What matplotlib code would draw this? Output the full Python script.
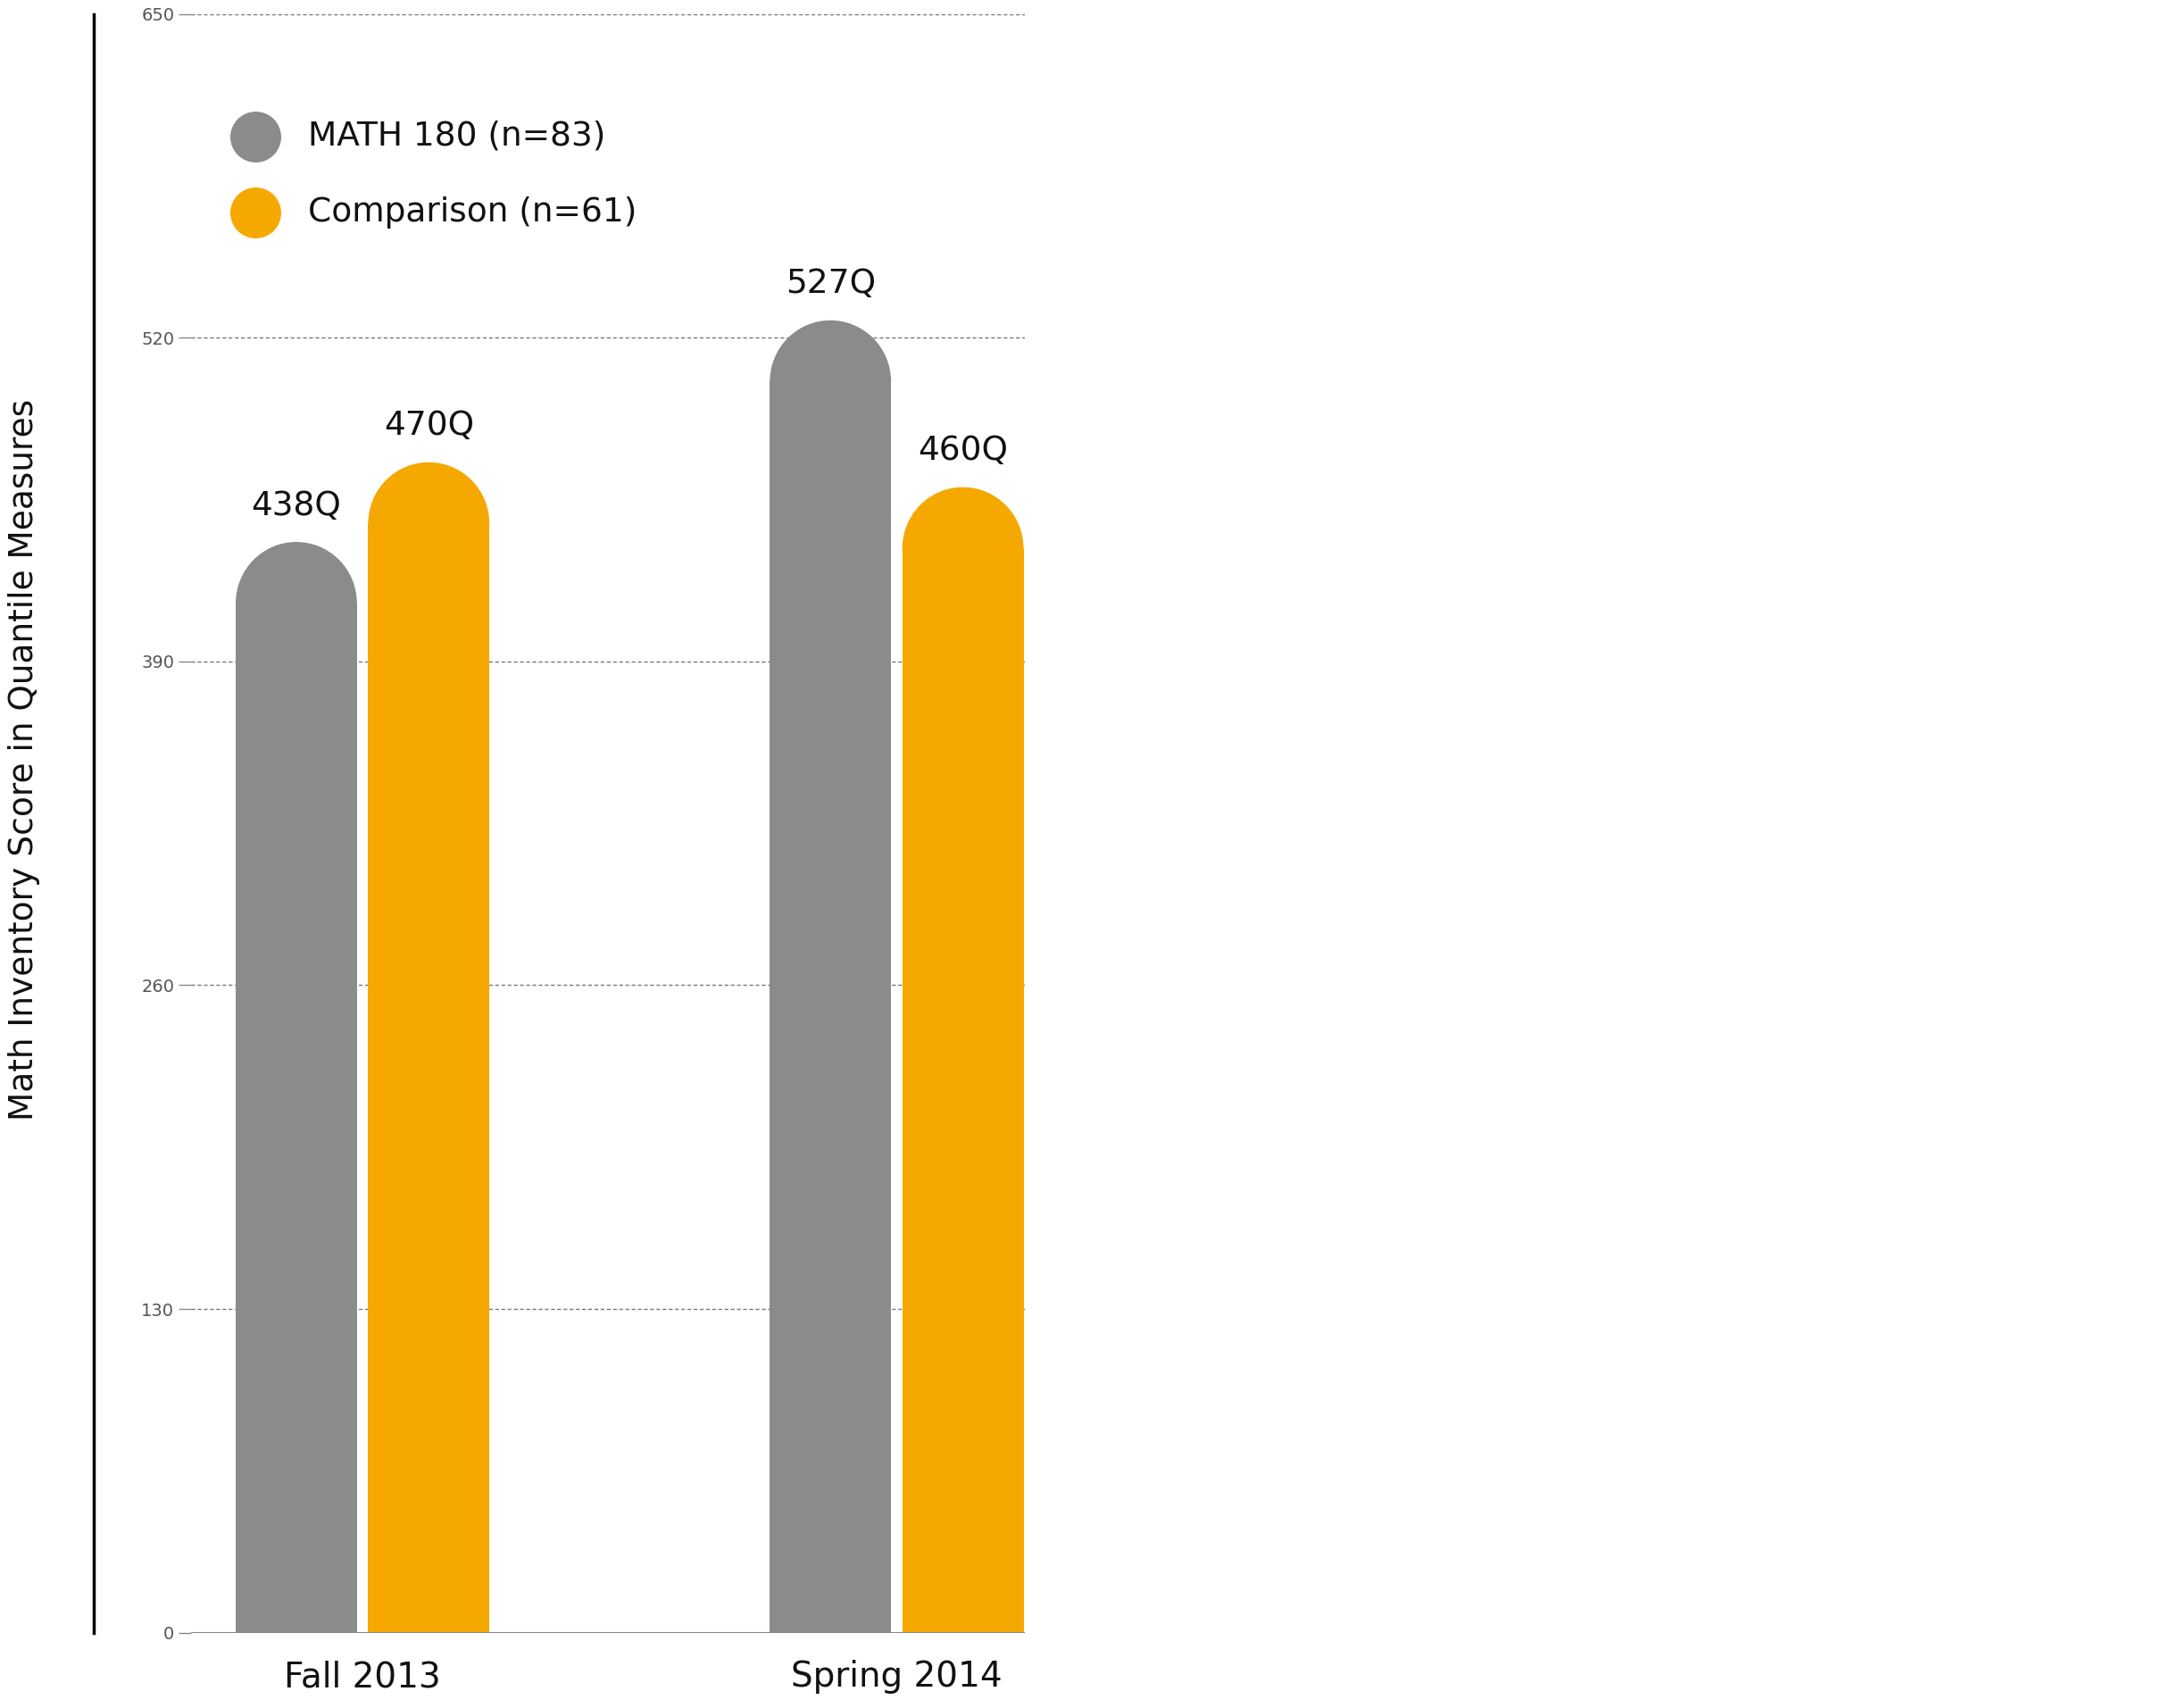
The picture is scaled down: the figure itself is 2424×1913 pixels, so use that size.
import matplotlib.pyplot as plt
from matplotlib.patches import Rectangle, Ellipse

categories = ["Fall 2013", "Spring 2014"]
series_names = ["MATH 180 (n=83)", "Comparison (n=61)"]
math180 = [438, 527]
comparison = [470, 460]
yticks = [0, 130, 260, 390, 520, 650]

colors = ["#8a8c8c", "#f5a800"]
plt.rcParams['font.family'] = ['Liberation Sans Narrow', 'DejaVu Sans']

fig = plt.figure(figsize=(24.24, 19.13), dpi=100)
ax = fig.add_axes([0.0883, 0.0441, 0.3853, 0.9477])
ax.set_xlim(-0.321, 1.240)
ax.set_ylim(0, 650)

width = 0.227
offset = 0.124
cap_h = 24.6
for i, vals in enumerate([math180, comparison]):
    for j, v in enumerate(vals):
        x = j + (offset if i else -offset)
        ax.add_patch(Rectangle((x - width / 2, 0), width, v - cap_h, color=colors[i], lw=0, zorder=2))
        ax.add_patch(Ellipse((x, v - cap_h), width, 2 * cap_h, color=colors[i], lw=0, zorder=2))
        ax.text(x, v + 8, f"{v}Q", ha="center", va="bottom", fontsize=27, color="#111111")

for t in yticks[1:]:
    ax.axhline(t, color="#777777", lw=1, ls=(0, (3, 2)), zorder=1)
ax.axhline(0, color="#888888", lw=1.5, zorder=3)

ax.set_yticks(yticks)
ax.set_yticklabels([str(t) for t in yticks], fontsize=14, color="#555555")
ax.tick_params(axis="y", length=10, color="#888888", width=1)
ax.set_xticks([0, 1])
ax.set_xticklabels(categories, fontsize=28, color="#111111")
ax.tick_params(axis="x", length=0, pad=22)
for s in ax.spines.values():
    s.set_visible(False)

# legend
for i, name in enumerate(series_names):
    y = 0.9245 - i * 0.0473
    ax.scatter([0.0767], [y], s=1600, color=colors[i], transform=ax.transAxes, clip_on=False, zorder=4)
    ax.text(0.1405, y, name, transform=ax.transAxes, fontsize=27, va="center", color="#111111")

fig.add_artist(plt.Line2D([0.0432, 0.0432], [0.0441, 0.9918], color="black", lw=2.5))
fig.text(0.011, 0.555, "Math Inventory Score in Quantile Measures", rotation=90,
         fontsize=27, va="center", ha="center", color="#111111")

fig.savefig("out.png", dpi=100)
